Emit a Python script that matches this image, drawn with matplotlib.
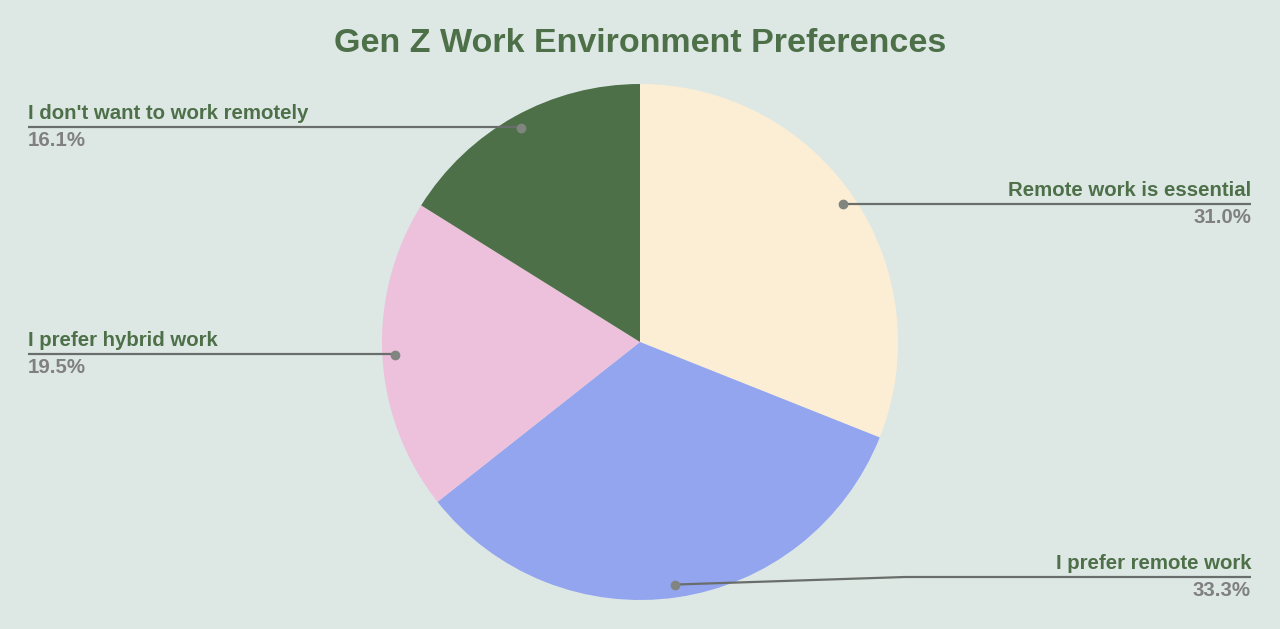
import numpy as np
import matplotlib.pyplot as plt

plt.rcParams['font.family'] = ['Liberation Sans', 'DejaVu Sans']

# data
labels = ['Remote work is essential', 'I prefer remote work',
          'I prefer hybrid work', "I don't want to work remotely"]
shares = [31.0, 33.3, 19.5, 16.1]
colors = ['#FCEED5', '#93A5EF', '#EDC1DC', '#4E7049']

bg = '#DDE8E5'
green = '#4E7049'
W, H = 1280, 629

fig = plt.figure(figsize=(W / 100, H / 100), dpi=100, facecolor=bg)
ax = fig.add_axes([0, 0, 1, 1])
ax.set_facecolor(bg)

cx, cy, R = 640, H - 342, 258
wedges, _ = ax.pie(shares, colors=colors, startangle=90, counterclock=False,
                   center=(cx, cy), radius=R, wedgeprops=dict(linewidth=0),
                   frame=True)
ax.set_xlim(0, W)
ax.set_ylim(0, H)
ax.set_aspect('equal')
ax.axis('off')

# label layout: (side, label y in pixels from top)
layout = [('right', 204), ('right', 577), ('left', 354), ('left', 127)]

for w, lab, val, (side, ly) in zip(wedges, labels, shares, layout):
    mid = np.deg2rad((w.theta1 + w.theta2) / 2)
    px = cx + 0.95 * R * np.cos(mid)
    py = cy + 0.95 * R * np.sin(mid)
    y = H - ly
    if side == 'right':
        xe = 1251
        if abs(py - y) > 1:
            xs = [px, 905, xe]
            ys = [py, y, y]
        else:
            xs = [px, xe]
            ys = [y, y]
        ha = 'right'
    else:
        xe = 28
        xs = [px, xe]
        ys = [y, y]
        ha = 'left'
    ax.plot(xs, ys, color='#6a6e6a', lw=1.6, solid_capstyle='butt', zorder=3)
    ax.plot(px, py, 'o', color='#808580', ms=6, zorder=4)
    ax.text(xe, y + 4, lab, ha=ha, va='bottom', fontsize=14.7,
            fontweight='bold', color=green)
    ax.text(xe, y - 4, f'{val:.1f}%', ha=ha, va='top', fontsize=14.7,
            fontweight='bold', color='#808080')

ax.text(640, H - 44, 'Gen Z Work Environment Preferences', ha='center',
        va='center', fontsize=24.5, fontweight='bold', color=green)

fig.savefig('out.png', dpi=100, facecolor=bg)
